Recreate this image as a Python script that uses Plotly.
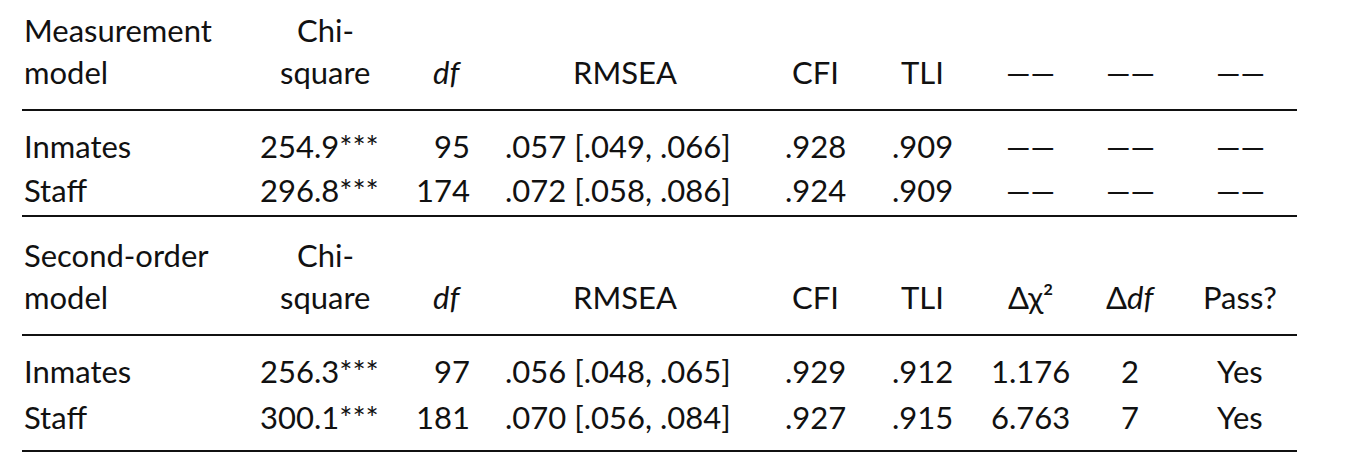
import plotly.graph_objects as go

groups = ["Inmates", "Staff"]
meas_chi = ["254.9***", "296.8***"]
meas_df = ["95", "174"]
meas_rmsea = [".057 [.049, .066]", ".072 [.058, .086]"]
meas_cfi = [".928", ".924"]
meas_tli = [".909", ".909"]
so_chi = ["256.3***", "300.1***"]
so_df = ["97", "181"]
so_rmsea = [".056 [.048, .065]", ".070 [.056, .084]"]
so_cfi = [".929", ".927"]
so_tli = [".912", ".915"]
so_dchi = ["1.176", "6.763"]
so_ddf = ["2", "7"]
so_pass = ["Yes", "Yes"]

W, H = 1330, 444
FONT = dict(family="Lato, Open Sans, sans-serif", size=31, color="#111")
fig = go.Figure()
ann = []

def t(x, y, s, anchor="center"):
    ann.append(dict(x=x, y=y, text=s, showarrow=False, xanchor=anchor,
                    yanchor="middle", font=FONT))

def header(y1, y2, name1, name2, extra):
    t(22, y1, name1, "left"); t(22, y2, name2, "left")
    t(325, y1, "Chi-"); t(325, y2, "square")
    t(447, y2, "<i>df</i>"); t(625, y2, "RMSEA")
    t(815, y2, "CFI"); t(922, y2, "TLI")
    for x, s in zip([1030, 1130, 1240], extra):
        t(x, y2, s)

def rows(ys, chi, df, rm, cfi, tli, e1, e2, e3):
    for i, y in enumerate(ys):
        t(22, y, groups[i], "left")
        t(258, y, chi[i], "left")
        t(472, y, df[i], "right")
        t(503, y, rm[i], "left")
        t(815, y, cfi[i]); t(922, y, tli[i])
        t(1030, y, e1[i]); t(1130, y, e2[i]); t(1240, y, e3[i])

dash = ["——", "——"]
header(30, 72, "Measurement", "model", ["——", "——", "——"])
rows([146, 190], meas_chi, meas_df, meas_rmsea, meas_cfi, meas_tli, dash, dash, dash)
header(255, 297, "Second-order", "model", ["Δχ²", "Δ<i>df</i>", "Pass?"])
rows([371, 417], so_chi, so_df, so_rmsea, so_cfi, so_tli, so_dchi, so_ddf, so_pass)

shapes = [dict(type="line", x0=22, x1=1297, y0=y, y1=y, line=dict(color="#111", width=2))
          for y in [110, 216, 335, 451]]

fig.update_layout(width=W, height=H, margin=dict(l=0, r=0, t=0, b=0),
                  paper_bgcolor="white", plot_bgcolor="white",
                  xaxis=dict(range=[8, 8 + W], visible=False, fixedrange=True),
                  yaxis=dict(range=[8 + H, 8], visible=False, fixedrange=True),
                  annotations=ann, shapes=shapes, showlegend=False)
fig.write_html("out.html")
